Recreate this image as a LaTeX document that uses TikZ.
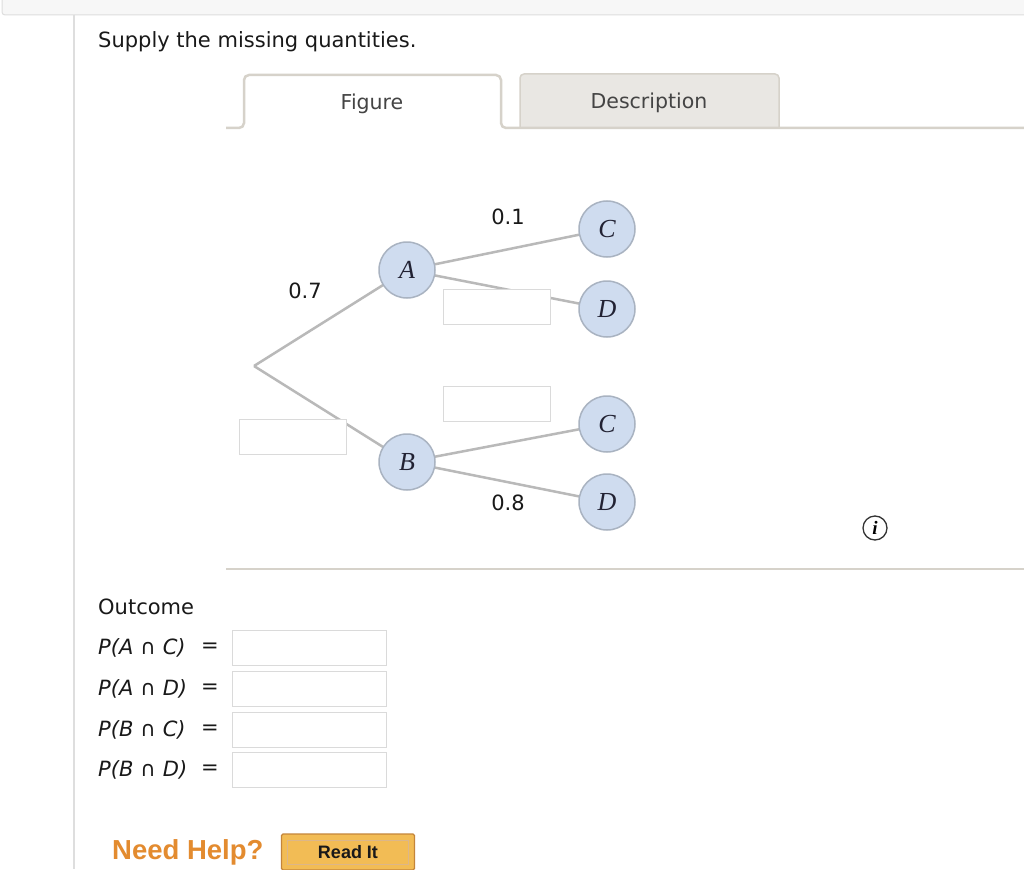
\documentclass[tikz,border=0pt]{standalone}
\usepackage{fontspec}
\setmainfont{DejaVu Sans}
\newfontfamily\serifit{Liberation Serif}
\newfontfamily\arialf{Liberation Sans}
\definecolor{tabline}{HTML}{D6D2CA}
\definecolor{tabfill}{HTML}{E9E7E3}
\definecolor{treeline}{HTML}{B9B9B9}
\definecolor{circfill}{HTML}{CFDCEF}
\definecolor{circdraw}{HTML}{A9B3C1}
\definecolor{boxline}{HTML}{DADADA}
\definecolor{helporange}{HTML}{E38B2F}
\definecolor{btnfill}{HTML}{F2BC55}
\definecolor{btndraw}{HTML}{C4853A}
\definecolor{txtgray}{HTML}{444444}
\definecolor{lettcol}{HTML}{222233}
\tikzset{
  txt/.style={inner sep=0pt, font=\fontsize{21}{25}\selectfont, text=black!90},
  num/.style={inner sep=0pt, font=\fontsize{21}{25}\selectfont, text=black!90},
  circ/.style={circle, minimum size=56pt, inner sep=0pt, fill=circfill, draw=circdraw, line width=1.5pt, font=\serifit\itshape\fontsize{26}{28}\selectfont, text=lettcol},
  ansbox/.style={draw=boxline, fill=white, line width=1pt, inner sep=0pt},
  branch/.style={draw=treeline, line width=2.5pt},
}
\begin{document}
\begin{tikzpicture}[x=1pt,y=-1pt]
\useasboundingbox (0,0) rectangle (1024,869);
\fill[white] (0,0) rectangle (1024,869);
% top bar
\draw[fill=black!3, draw=black!13, line width=1pt, rounded corners=3pt] (2,-6) rectangle (1030,15);
% left vertical rule
\draw[black!13, line width=1.2pt] (74,15) -- (74,869);
\node[txt, anchor=base west] (title) at (98,48) {Supply the missing quantities.};
% tabs
\draw[fill=tabfill, draw=tabline, line width=1.5pt, rounded corners=4pt] (520,128) -- (520,74) -- (779,74) -- (779,128);
\draw[tabline, line width=2.5pt, rounded corners=5pt] (226,128) -- (244,128) -- (244,75) -- (501,75) -- (501,128) -- (1026,128);
\node[inner sep=0pt, font=\fontsize{20.5}{24}\selectfont, text=txtgray] (figtab) at (372,104) {Figure};
\node[inner sep=0pt, font=\fontsize{20.5}{24}\selectfont, text=txtgray] (desctab) at (649,102.5) {Description};
% tree
\coordinate (root) at (254,366);
\coordinate (pA) at (407,270);
\coordinate (pB) at (407,462);
\coordinate (pC1) at (607,229);
\coordinate (pD1) at (607,309);
\coordinate (pC2) at (607,424);
\coordinate (pD2) at (607,502);
\path[branch] (root) -- (pA) (root) -- (pB)
  (pA) -- (pC1) (pA) -- (pD1)
  (pB) -- (pC2) (pB) -- (pD2);
\node[circ] (A) at (pA) {A};
\node[circ] (B) at (pB) {B};
\node[circ] (C1) at (pC1) {C};
\node[circ] (D1) at (pD1) {D};
\node[circ] (C2) at (pC2) {C};
\node[circ] (D2) at (pD2) {D};
\node[num] (p01) at (508,217) {0.1};
\node[num] (p07) at (305,291) {0.7};
\node[num] (p08) at (508,503) {0.8};
\node[ansbox, minimum width=107pt, minimum height=35pt] (bx1) at (496.5,306.5) {};
\node[ansbox, minimum width=107pt, minimum height=35pt] (bx2) at (496.5,403.5) {};
\node[ansbox, minimum width=107pt, minimum height=35pt] (bx3) at (292.5,436.5) {};
% info icon
\node[circle, draw=black!80, line width=1.3pt, minimum size=24pt, inner sep=0pt, font=\serifit\bfseries\itshape\fontsize{19}{20}\selectfont] (info) at (875,528) {i};
% figure bottom rule
\draw[tabline, line width=2.5pt] (226,569) -- (1026,569);
% outcomes
\node[txt, anchor=base west] (outc) at (98,614) {Outcome};
\foreach \y/\a/\b/\n in {648/A/C/1, 689/A/D/2, 730/B/C/3, 770/B/D/4}{
  \node[txt, anchor=west] (lab\n) at (98,\y) {\textit{P(\a}\,\,∩\,\,\textit{\b)}};
  \node[txt] (eq\n) at (210,\y) {=};
  \node[ansbox, minimum width=154pt, minimum height=35pt] (ans\n) at (309,\y) {};
}
% help
\node[inner sep=0pt, anchor=west, font=\arialf\bfseries\fontsize{27.5}{30}\selectfont, text=helporange] (help) at (112,852) {Need Help?};
\node[draw=btndraw, fill=btnfill, line width=1.2pt, rounded corners=1.5pt, minimum width=133pt, minimum height=36pt, inner sep=0pt] (btn) at (348,852) {};
\node[draw=btndraw!60, line width=0.8pt, minimum width=121pt, minimum height=24pt, inner sep=0pt, font=\arialf\bfseries\fontsize{18}{20}\selectfont, text=black!90] (readit) at (348,852) {Read It};
\end{tikzpicture}
\end{document}
